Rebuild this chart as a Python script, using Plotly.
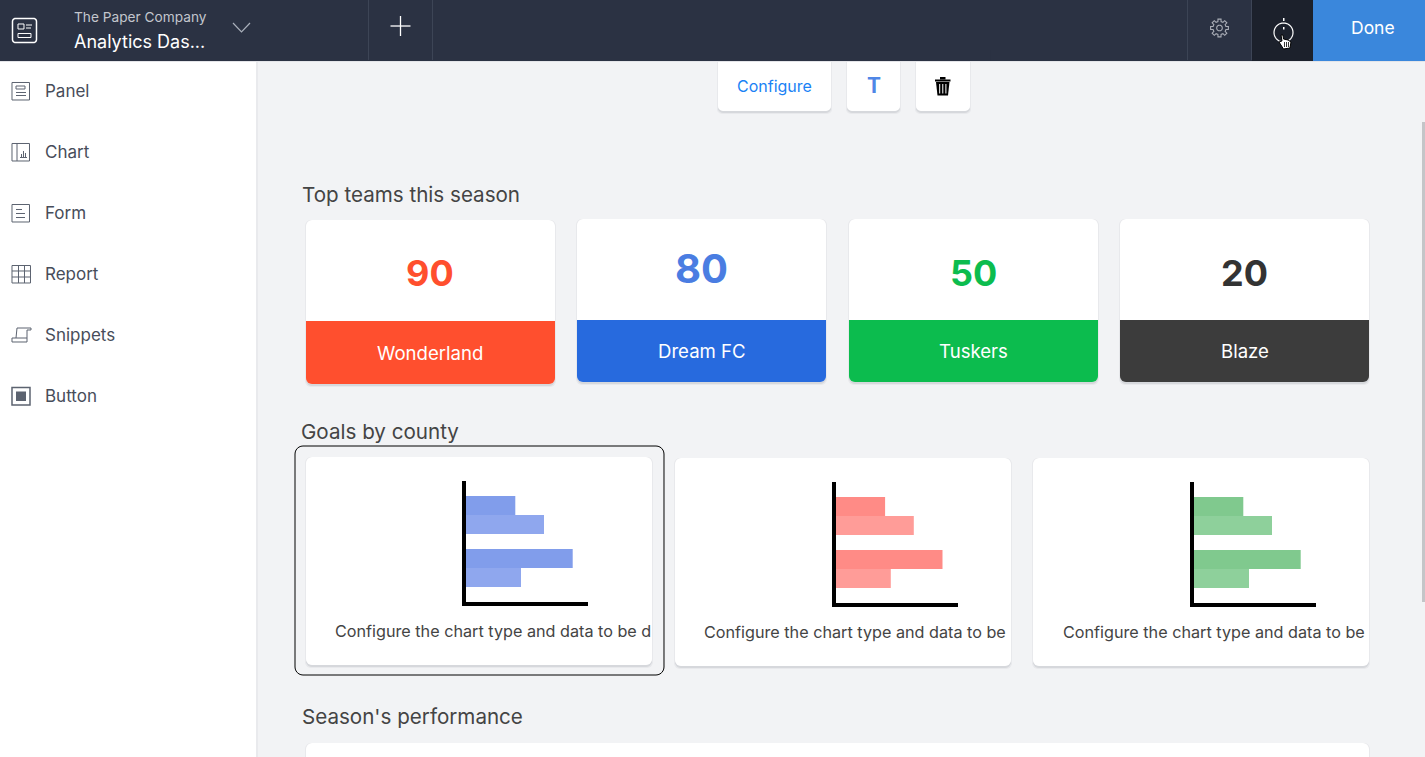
import math
import plotly.graph_objects as go
from plotly.subplots import make_subplots

W, H = 1425, 757

# ---------- data ----------
kpi_teams = ["Wonderland", "Dream FC", "Tuskers", "Blaze"]
kpi_values = [90, 80, 50, 20]
kpi_colors = ["#ff4f2e", "#276ade", "#0cbc4e", "#3c3c3c"]
kpi_value_colors = ["#ff4f2e", "#4a7de2", "#0cbc4e", "#333333"]
kpi_boxes = [(306, 555, 220, 321, 384), (577, 826, 219, 320, 382),
             (849, 1098, 219, 320, 382), (1120, 1369, 219, 320, 382)]
kpi_value_y = [273, 268.5, 272.5, 272.5]
kpi_value_size = [36, 40, 36, 36]

bar_groups = ["A", "B"]
bar_series_1 = [49.3, 106.7]
bar_series_2 = [78, 55]
chart_colors = [("#819deb", "#8fa7ee"), ("#ff8b86", "#ff9c98"), ("#80c98e", "#8ed09b")]
chart_x0 = [466, 835.8, 1194]
chart_dy = [0, 1, 1]
chart_captions = ["Configure the chart type and data to be d",
                  "Configure the chart type and data to be",
                  "Configure the chart type and data to be"]
caption_x = [334, 703, 1062]
chart_cards = [(306, 652, 457, 665), (675, 1011, 458, 666), (1033, 1369, 458, 666)]

side_items = ["Panel", "Chart", "Form", "Report", "Snippets", "Button"]
side_y = [91, 152, 213, 274, 335, 396]

FONT = "Inter"
shapes, annots = [], []

def px(x): return x / W
def py(y): return 1 - y / H

def P(*pts, close=False):
    s = "M" + " L".join(f"{px(a):.5f},{py(b):.5f}" for a, b in pts)
    return s + (" Z" if close else "")

def rr_path(x0, y0, x1, y1, r=6, tl=True, tr=True, br=True, bl=True):
    def arc(cx, cy, a0):
        return [(cx + r * math.cos(math.radians(a0 + i * 15)),
                 cy + r * math.sin(math.radians(a0 + i * 15))) for i in range(7)]
    pts = []
    pts += arc(x0 + r, y0 + r, 180) if tl else [(x0, y0)]
    pts += arc(x1 - r, y0 + r, 270) if tr else [(x1, y0)]
    pts += arc(x1 - r, y1 - r, 0) if br else [(x1, y1)]
    pts += arc(x0 + r, y1 - r, 90) if bl else [(x0, y1)]
    return P(*pts, close=True)

def path(d, fill=None, line=None, lw=1):
    s = dict(type="path", xref="paper", yref="paper", path=d, layer="below",
             line=dict(width=lw if line else 0, color=line or "rgba(0,0,0,0)"))
    if fill:
        s["fillcolor"] = fill
    shapes.append(s)

def rect(x0, y0, x1, y1, fill=None, line=None, lw=1):
    path(P((x0, y0), (x1, y0), (x1, y1), (x0, y1), close=True), fill, line, lw)

def seg(color, lw, *pts):
    path(P(*pts), None, color, lw)

def circle(cx, cy, r, fill=None, line=None, lw=1):
    pts = [(cx + r * math.cos(i * math.pi / 18), cy + r * math.sin(i * math.pi / 18)) for i in range(36)]
    path(P(*pts, close=True), fill, line, lw)

def shadow(x0, y0, x1, y1, r=6):
    path(rr_path(x0 - 1, y0, x1 + 1, y1 + 3, r), "rgba(60,65,80,0.05)")
    path(rr_path(x0, y0, x1, y1 + 2, r), "rgba(60,65,80,0.10)")

def text(x, y, t, size, color, anchor="left", weight=None):
    font = dict(family=FONT, size=size, color=color)
    if weight:
        font["weight"] = weight
    annots.append(dict(xref="paper", yref="paper", x=px(x), y=py(y), text=t, showarrow=False,
                       xanchor=anchor, yanchor="middle", font=font, borderpad=0))

# ---------- page chrome ----------
rect(0, 61, 256, H, "#ffffff")
rect(256, 61, 258, H, "#e9eaed")
rect(0, 0, W, 61, "#2b3243")
rect(0, 61, W, 62, "#e4e5e9")
rect(1252, 0, 1313, 61, "#1c212c")
rect(1313, 0, W, 61, "#3a87dc")
for x in (368.5, 432.5, 1187.5, 1251.5):
    seg("#3d4556", 1, (x, 0), (x, 60))

# header icons
path(rr_path(12.5, 18.5, 36.5, 42.5, 3), None, "#ffffff", 1.5)
rect(18, 24, 24, 29, None, "#ffffff", 1)
seg("#ffffff", 1, (26, 25), (32, 25))
seg("#ffffff", 1, (26, 28), (31, 28))
rect(18, 33.5, 31, 37.5, None, "#ffffff", 1)
seg("#aab0bb", 1.2, (233, 23), (241.5, 32), (250, 23))
seg("#ffffff", 1.3, (400.5, 16), (400.5, 36))
seg("#ffffff", 1.3, (390.5, 26), (410.5, 26))

# gear
gear = []
for i in range(8):
    a = i * math.pi / 4 - math.pi / 2
    for da, r in ((-0.24, 6.6), (-0.17, 9), (0.17, 9), (0.24, 6.6)):
        gear.append((1219.5 + r * math.cos(a + da), 28 + r * math.sin(a + da)))
path(P(*gear, close=True), None, "#a9adb6", 1.1)
circle(1219.5, 28, 2.8, None, "#a9adb6", 1.1)

# preview knob and hand cursor
circle(1283.5, 32.5, 9.5, None, "#ffffff", 1.2)
rect(1283, 18, 1284.5, 21, "#ffffff")
rect(1283, 27, 1284.5, 29.5, "#ffffff")
path(P((1281, 35), (1283, 35), (1283.5, 39), (1288, 40), (1291, 42), (1290, 48),
       (1283.5, 49), (1279, 42), (1282, 41), close=True), "#ffffff", "#000000", 1)
for x in (1284.5, 1286.5, 1288.5):
    seg("#000000", 0.8, (x, 42), (x, 47))

text(72.5, 17.5, "The Paper Company", 13.7, "#c3c6cd")
text(72.5, 41, "Analytics Das...", 18, "#ffffff")
text(1373, 27.5, "Done", 17.5, "#ffffff", "center")

# sidebar icons
ic = "#5c6370"
rect(12, 82.5, 29.5, 100, None, ic)
rect(16, 86, 25, 89, None, ic)
seg(ic, 1, (16, 92.5), (26, 92.5))
seg(ic, 1, (16, 95.5), (26, 95.5))
rect(12, 143.5, 29.5, 161, None, ic)
seg(ic, 1, (17, 143.5), (17, 161))
seg(ic, 1, (20, 157.5), (27, 157.5))
for x, top in ((21.5, 154), (23.5, 151), (25.5, 153)):
    seg(ic, 1, (x, 157), (x, top))
rect(12, 204.5, 29.5, 222, None, ic)
seg(ic, 1, (16, 209.5), (22, 209.5))
seg(ic, 1, (16, 213.5), (25, 213.5))
seg(ic, 1, (16, 217.5), (25, 217.5))
rect(12, 265.5, 30.5, 283, None, ic)
for x in (18.5, 24.5):
    seg(ic, 1, (x, 265.5), (x, 283))
for y in (271, 277):
    seg(ic, 1, (12, y), (30.5, y))
path(P((17, 328), (31, 328), (31, 330), (27, 330), (27, 342), (12, 342), (12, 338), (16, 338), close=True), None, ic)
seg(ic, 1, (16, 338), (27, 338))
rect(12, 387.5, 30, 405, None, ic, 1.5)
rect(16, 391.5, 26, 401, ic)

for t, y in zip(side_items, side_y):
    text(44, y, t, 17, "#474d5a")

# toolbar buttons
for x0, x1 in ((718, 831), (847, 900), (916, 970)):
    shadow(x0, 50, x1, 111, 5)
    path(rr_path(x0, 50, x1, 111, 5), "#ffffff")
rect(700, 50, 990, 61, "#2b3243")
rect(700, 61, 990, 62, "#e4e5e9")
for x0, x1 in ((718, 831), (847, 900), (916, 970)):
    rect(x0, 62, x1, 70, "#ffffff")
text(774.5, 86, "Configure", 16, "#1a82f5", "center")
text(873.5, 86, "<b>T</b>", 21, "#4f86e6", "center")
rect(935, 79.5, 950.5, 81.5, "#000000")
rect(940, 77, 945.5, 79.5, "#000000")
path(P((936, 82), (949.5, 82), (948, 95.5), (937.5, 95.5), close=True), "#000000")
for x in (939.7, 942.8, 945.9):
    seg("#ffffff", 1, (x, 84), (x, 93.5))

# scrollbar
rect(1422, 122, W, 602, "#c4c5c8")

# section titles
text(300.5, 194, "Top teams this season", 20.6, "#444444")
text(299.5, 431.5, "Goals by county", 20.6, "#444444")
text(300.5, 716.5, "Season's performance", 20.6, "#444444")

# KPI cards
for (x0, x1, y0, ym, y1), name, val, col, vcol, vy, vs in zip(kpi_boxes, kpi_teams, kpi_values, kpi_colors,
                                                              kpi_value_colors, kpi_value_y, kpi_value_size):
    shadow(x0, y0, x1, y1)
    path(rr_path(x0, y0, x1, y1), "#ffffff")
    path(rr_path(x0, ym, x1, y1, 6, tl=False, tr=False), col)
    cx = (x0 + x1) / 2
    text(cx, vy, f"<b>{val}</b>", vs, vcol, "center")
    text(cx, (ym + y1) / 2 + 0.2, name, 18.6, "#ffffff", "center")

# chart cards
path(rr_path(295, 446, 664, 675, 8), None, "#000000", 1)
for (x0, x1, y0, y1), cap, cx in zip(chart_cards, chart_captions, caption_x):
    shadow(x0, y0, x1, y1)
    path(rr_path(x0, y0, x1, y1), "#ffffff")
    text(cx, (y1 - 34), cap, 16.2, "#444444")

# bottom card
shadow(306, 743, 1369, H + 20)
path(rr_path(306, 743, 1369, H + 20), "#ffffff")

# ---------- mini bar charts ----------
fig = make_subplots(rows=1, cols=3)
layout_axes = {}
for i, (x0, dy) in enumerate(zip(chart_x0, chart_dy)):
    n = i + 1
    c1, c2 = chart_colors[i]
    for vals, col in ((bar_series_1, c1), (bar_series_2, c2)):
        fig.add_trace(go.Bar(y=bar_groups, x=vals, orientation="h", marker=dict(color=col, line=dict(width=0)),
                             showlegend=False, hoverinfo="skip"), row=1, col=n)
    suffix = "" if n == 1 else str(n)
    layout_axes["xaxis" + suffix] = dict(domain=[px(x0), px(x0 + 122)], range=[0, 122], anchor="y" + suffix,
                                         showgrid=False, zeroline=False, showticklabels=False, ticks="",
                                         showline=True, linecolor="#000000", linewidth=3.5, fixedrange=True)
    layout_axes["yaxis" + suffix] = dict(domain=[py(602.3 + dy), py(481 + dy)], type="category", range=[1.647, -0.642],
                                         anchor="x" + suffix, showgrid=False, zeroline=False, showticklabels=False,
                                         ticks="", showline=True, linecolor="#000000", linewidth=3.5, fixedrange=True)

fig.update_layout(width=W, height=H, margin=dict(l=0, r=0, t=0, b=0, pad=0), paper_bgcolor="#f2f3f5",
                  plot_bgcolor="rgba(0,0,0,0)", barmode="group", bargap=0.283, bargroupgap=0,
                  showlegend=False, shapes=shapes, annotations=annots, font=dict(family=FONT), **layout_axes)

fig.write_html("out.html", config=dict(displayModeBar=False),
               post_script="document.body.style.margin='0';document.body.style.overflow='hidden';")
